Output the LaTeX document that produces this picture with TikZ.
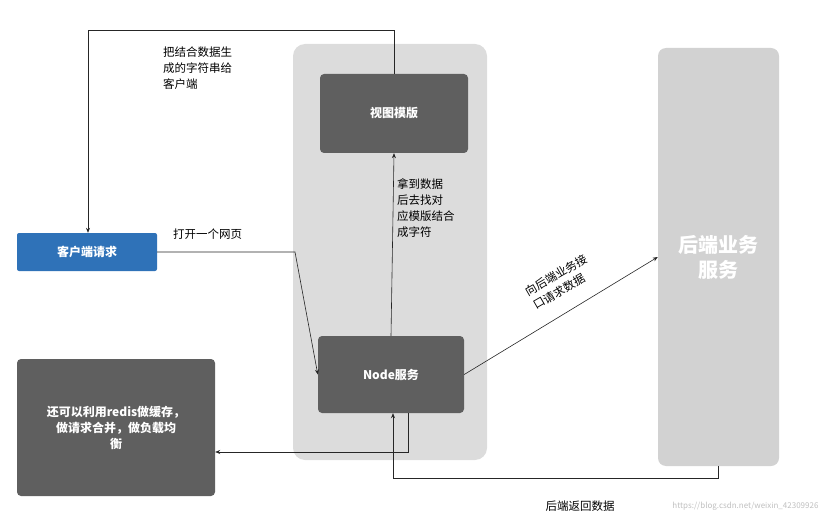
\documentclass[tikz,border=0pt]{standalone}
\usepackage{fontspec}
\setmainfont{Noto Sans CJK SC}
\usetikzlibrary{arrows.meta}
\definecolor{dk}{HTML}{5F5F5F}
\definecolor{lt}{HTML}{DCDCDC}
\definecolor{bk}{HTML}{D2D2D2}
\definecolor{bl}{HTML}{2F72B8}
\tikzset{
 darkbox/.style={fill=dk,rounded corners=4pt,text=white,font=\bfseries\fontsize{12}{14}\selectfont,align=center},
 lbl/.style={font=\fontsize{11.5}{16}\selectfont,align=left,anchor=north west,inner sep=0pt},
 conn/.style={draw=black!85,line width=0.6pt,-{Stealth[length=5pt,width=4pt]}}
}
\begin{document}
\begin{tikzpicture}[x=1pt,y=-1pt]
\useasboundingbox (0,0) rectangle (830,524);
\fill[lt,rounded corners=12pt] (293,44) rectangle (487,460);
\node[fill=bk,rounded corners=8pt,minimum width=121pt,minimum height=418pt,text=white,font=\bfseries\fontsize{20}{25}\selectfont,align=center] (be) at (718.5,257) {后端业务\\服务};
\node[darkbox,minimum width=148pt,minimum height=79pt] (view) at (394,113.5) {视图模版};
\node[darkbox,minimum width=146pt,minimum height=77pt] (node) at (391,374.5) {Node服务};
\node[fill=bl,rounded corners=2pt,text=white,font=\bfseries\fontsize{12}{14}\selectfont,minimum width=140pt,minimum height=38pt] (cli) at (87,252) {客户端请求};
\node[darkbox,minimum width=198pt,minimum height=137pt,font=\bfseries\fontsize{12}{16}\selectfont] (redis) at (116,427.5) {还可以利用redis做缓存，\\做请求合并，做负载均\\衡};
\draw[conn] (view.north) |- (88,30) -- (cli.north -| 88,0);
\draw[conn] (cli.east) -- (295,252) -- (node.west);
\draw[conn] (node.north) -- (view.south);
\draw[conn] (node.east) -- (be.west);
\draw[conn] (be.south) |- (393,478) -- (node.south -| 393,0);
\draw[conn] ([xshift=17pt]node.south) |- (redis.east |- 0,452);
\node[lbl] (l1) at (163,47) {把结合数据生\\成的字符串给\\客户端};
\node[lbl] (l2) at (173,229) {打开一个网页};
\node[lbl] (l3) at (397,178) {拿到数据\\后去找对\\应模版结合\\成字符};
\node[font=\fontsize{11.5}{16}\selectfont,align=left,rotate=30] (l4) at (560,282) {向后端业务接\\口请求数据};
\node[font=\fontsize{11.5}{14}\selectfont] (l5) at (580,506) {后端返回数据};
\node[font=\fontsize{8}{10}\selectfont,text=black!25,anchor=east] (wm) at (822,506) {https://blog.csdn.net/weixin\_42309926};
\end{tikzpicture}
\end{document}
